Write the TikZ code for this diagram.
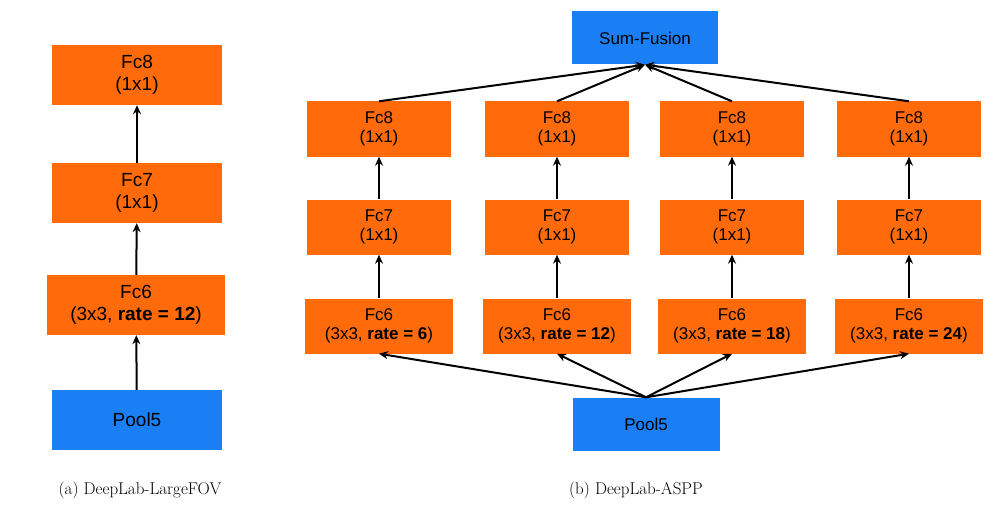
\documentclass[tikz,border=0pt]{standalone}
\usepackage{fontspec}
\setsansfont{Liberation Sans}
\usetikzlibrary{positioning,arrows.meta}
\definecolor{layerorange}{RGB}{255,106,10}
\definecolor{layerblue}{RGB}{26,127,245}
\tikzset{
  lay/.style={rectangle, fill=layerorange, inner sep=0pt, align=center, font=\sffamily\fontsize{17}{19}\selectfont},
  big/.style={lay, minimum width=170pt, minimum height=60pt, font=\sffamily\fontsize{19}{22}\selectfont},
  small/.style={lay, minimum width=144pt, minimum height=55pt},
  pool/.style={fill=layerblue},
  arr/.style={-{Stealth[length=9pt,width=8pt]}, line width=2pt},
}
\begin{document}
\begin{tikzpicture}[x=1pt,y=-1pt]
\useasboundingbox (0,0) rectangle (995,516);
% (a) LargeFOV
\node[big] (a8) at (137,75) {Fc8\\(1x1)};
\node[big] (a7) at (137,193) {Fc7\\(1x1)};
\node[big, minimum width=178pt] (a6) at (136,305) {Fc6\\(3x3, \textbf{rate = 12})};
\node[big, pool] (ap) at (137,420) {Pool5};
\draw[arr] (ap) -- (a6);
\draw[arr] (a6) -- (a7);
\draw[arr] (a7) -- (a8);
\node[font=\fontsize{17}{20}\selectfont] at (140,490) {(a) DeepLab-LargeFOV};
% (b) ASPP
\node[small, pool, minimum width=146pt, minimum height=53pt] (sum) at (645,38) {Sum-Fusion};
\node[small, pool, minimum width=147pt, minimum height=53pt] (bp) at (646,424) {Pool5};
\foreach \i/\x/\r in {1/379/6, 2/557/12, 3/732/18, 4/909/24} {
  \node[small] (f8\i) at (\x,129) {Fc8\\(1x1)};
  \node[small] (f7\i) at (\x,227) {Fc7\\(1x1)};
  \node[small, minimum width=148pt] (f6\i) at (\x,326) {Fc6\\(3x3, \textbf{rate = \r})};
  \draw[arr] (bp.north) -- (f6\i.south);
  \draw[arr] (f6\i) -- (f7\i);
  \draw[arr] (f7\i) -- (f8\i);
  \draw[arr] (f8\i.north) -- (sum.south);
}
\node[font=\fontsize{17}{20}\selectfont] at (636,490) {(b) DeepLab-ASPP};
\end{tikzpicture}
\end{document}
